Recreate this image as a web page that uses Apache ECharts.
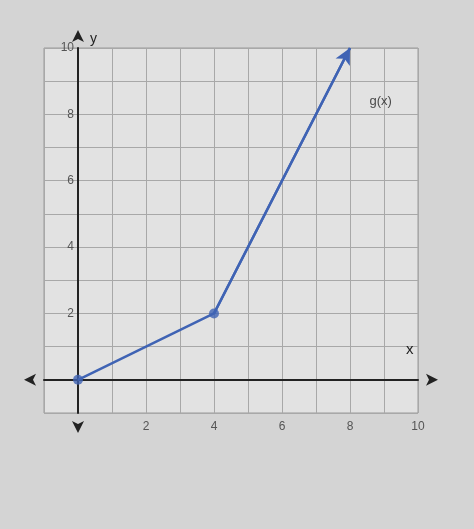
<!DOCTYPE html>
<html>
<head>
<meta charset="utf-8">
<script src="https://cdn.jsdelivr.net/npm/echarts@6/dist/echarts.min.js"></script>
<style>html,body{margin:0;background:#d6d6d6}#c{width:474px;height:529px}</style>
</head>
<body>
<div id="c"></div>
<script>
// g(x) piecewise line
var gx = [0, 4, 8];
var gy = [0, 2, 10];
var dotX = [0, 4];
var dotY = [0, 2];
var tickLabels = ['2', '4', '6', '8', '10'];
var funcName = 'g(x)';

var chart = echarts.init(document.getElementById('c'));

var blue = '#3f63b4';
var lineData = gx.map(function (v, i) { return [v, gy[i]]; });
var dots = dotX.map(function (v, i) { return [v, dotY[i]]; });

function fmt(v) {
  return tickLabels.indexOf(String(v)) >= 0 ? String(v) : '';
}

var axisStyle = { color: '#222', width: 2, type: 'solid' };

var option = {
  backgroundColor: '#d4d4d4',
  grid: {
    left: 44, right: 56, top: 48, bottom: 116,
    show: true, backgroundColor: '#e2e2e2', borderColor: '#9a9a9a'
  },
  xAxis: {
    type: 'value', min: -1, max: 10, interval: 1,
    name: 'x', nameGap: 2,
    nameTextStyle: { color: '#222', fontSize: 15, verticalAlign: 'bottom', padding: [0, 0, 22, -14] },
    axisLine: { onZero: true, lineStyle: { color: '#222', width: 2 }, symbol: ['arrow', 'arrow'], symbolSize: [9, 12], symbolOffset: [-20, 20] },
    axisTick: { show: false },
    axisLabel: { formatter: fmt, color: '#555', fontSize: 12, margin: 8 },
    splitLine: { lineStyle: { color: '#a8a8a8' } }
  },
  yAxis: {
    type: 'value', min: -1, max: 10, interval: 1,
    name: 'y', nameGap: 2,
    nameTextStyle: { color: '#222', fontSize: 14, align: 'left', padding: [0, 0, 0, 12] },
    axisLine: { onZero: true, lineStyle: { color: '#222', width: 2 }, symbol: ['arrow', 'arrow'], symbolSize: [9, 12], symbolOffset: [-20, 18] },
    axisTick: { show: false },
    axisLabel: { formatter: fmt, color: '#555', fontSize: 12, margin: -30 },
    splitLine: { lineStyle: { color: '#a8a8a8' } }
  },
  series: [
    {
      type: 'line', data: lineData, symbol: 'none', clip: false,
      lineStyle: { color: blue, width: 2.5 },
      markLine: {
        silent: true, symbol: ['none', 'arrow'], symbolSize: [12, 16],
        label: { show: false },
        lineStyle: { color: blue, width: 2.5, type: 'solid' },
        data: [[{ coord: lineData[1] }, { coord: lineData[2] }]]
      }
    },
    {
      type: 'line', data: [], clip: false,
      markLine: {
        silent: true, symbol: ['none', 'none'], label: { show: false },
        lineStyle: axisStyle,
        data: [
          [{ coord: [-1, 0] }, { coord: [-1.6, 0] }],
          [{ coord: [10, 0] }, { coord: [10.6, 0] }],
          [{ coord: [0, 10] }, { coord: [0, 10.55] }],
          [{ coord: [0, -1] }, { coord: [0, -1.55] }]
        ]
      }
    },
    {
      type: 'scatter', data: dots, symbolSize: 10,
      itemStyle: { color: blue }
    },
    {
      type: 'scatter', data: [[8.9, 8.4]], symbolSize: 0,
      label: { show: true, formatter: funcName, color: '#222', fontSize: 13, position: 'inside' }
    }
  ]
};

chart.setOption(option);
</script>
</body>
</html>
